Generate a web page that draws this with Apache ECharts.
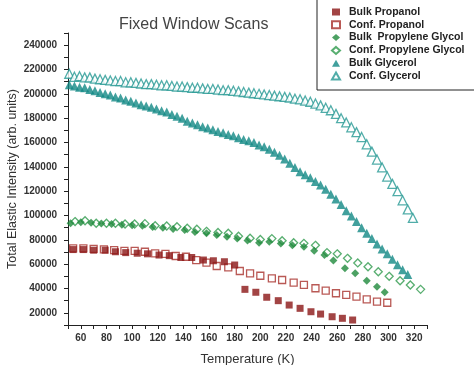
<!DOCTYPE html>
<html>
<head>
<meta charset="utf-8">
<script src="https://cdn.jsdelivr.net/npm/echarts@6/dist/echarts.min.js"></script>
<style>
html,body{margin:0;padding:0;background:#fff;}
#chart{width:474px;height:365px;}
</style>
</head>
<body>
<div id="chart"></div>
<script>
// Data: [Temperature (K), Total Elastic Intensity]
var bulkPropanol = [[54,72000],[62,72000],[70,71500],[79,71500],[87,70200],[95,69500],[104,69000],[112,68500],[121,67500],[129,67000],[138,65500],[146.5,65500],[155.6,63400],[163.4,62800],[172,62000],[180,59300],[188,39300],[196.5,36900],[205,32800],[214,30000],[222.5,26400],[231,23700],[239.5,20900],[247,19000],[256,16800],[264,15500],[272,14100]];
var confPropanol = [[54,73000],[62,73000],[70,72500],[78,72200],[86,71600],[94,71000],[102,71000],[110,70200],[118,68900],[126,68400],[134,66700],[142,66100],[150,63400],[158,61200],[166,58500],[175,57400],[184,54400],[192,52500],[200,50500],[209,48400],[217,47000],[226,44800],[234,42900],[243,40200],[251,38200],[259,36100],[267,34700],[275,33300],[283,31100],[291,29200],[299,28300]];
var bulkPG = [[52,93600],[60,94500],[68,94000],[76,93500],[84,93000],[92,92500],[100,92000],[108,91500],[116,90500],[124,90000],[132,89000],[141,88100],[149,86500],[158,85400],[166,84000],[174,82600],[182,81000],[190,79500],[199,77600],[207,78500],[216,77000],[225,75500],[234,74400],[242,71000],[250,67500],[257,63000],[266,56600],[274,52500],[283,46400],[291,41500],[297,36900]];
var confPG = [[55.5,95000],[63.3,95700],[72,93600],[80,93600],[87,93600],[94.5,93000],[102,93000],[110,93300],[118,91600],[127,91400],[135,90800],[143,89500],[150.5,88700],[158,87000],[167,86000],[175,85400],[183,83000],[192,81300],[200,80300],[209,81000],[217,79300],[226,77600],[234,77100],[243,75500],[252,69500],[260,68500],[268,64800],[276,61000],[284,57900],[292,53800],[300.5,50000],[309,46400],[317,42900],[325,39300]];
var bulkGlycerol = [[51,207500],[55,206500],[59,205500],[63,205000],[67,203500],[71,202500],[75,201000],[79,200000],[83,199000],[87,197500],[91,196500],[95,195000],[99,194000],[103,192500],[107,191000],[111,190000],[115,189000],[119,187500],[123,186000],[127,185000],[131,183000],[135,181500],[139,180000],[143,177500],[147,176000],[151,174500],[155,173000],[159,172000],[163,170500],[167,169000],[171,168000],[175,166500],[179,165500],[183,164000],[187,162500],[191,161500],[195,160000],[199,158000],[203,156500],[207,154500],[211,152000],[215,149500],[219,146500],[223,143000],[227,139500],[231,136000],[235,133500],[239,131000],[243,128000],[247,125000],[251,121500],[255,117500],[259,113500],[263,109000],[267,104000],[271,99500],[275,95000],[279,90000],[283,85500],[287,81000],[291,76500],[295,72500],[299,68500],[303,64000],[307,59500],[311,55500],[315,51500]];
var confGlycerol = [[51,216500],[55,214000],[59,214500],[63,213500],[67,213500],[71,212500],[75,212000],[79,211500],[83,211000],[87,210500],[91,210500],[95,209500],[99,209500],[103,209000],[107,208500],[111,208000],[115,208000],[119,207500],[123,207000],[127,207000],[131,206500],[135,206000],[139,206000],[143,205500],[147,205000],[151,205000],[155,204500],[159,204000],[163,204000],[167,203500],[171,203000],[175,203000],[179,202500],[183,202000],[187,201500],[191,201000],[195,200500],[199,200000],[203,199500],[207,199000],[211,198500],[215,198000],[219,197500],[223,197000],[227,196000],[231,195500],[235,194500],[239,193500],[243,192000],[247,190500],[251,188500],[255,186500],[259,183500],[263,180000],[267,176500],[271,172500],[275,168500],[279,164500],[283,158500],[287,152500],[291,146000],[295,139500],[299,132000],[303,126000],[307,120000],[311,112500],[315,105000],[319,98000]];

var seriesNames = ['Bulk Propanol','Conf. Propanol','Bulk  Propylene Glycol','Conf. Propylene Glycol','Bulk Glycerol','Conf. Glycerol'];
var titleText = 'Fixed Window Scans';
var xName = 'Temperature (K)';
var yName = 'Total Elastic Intensity (arb. units)';

var chart = echarts.init(document.getElementById('chart'));
function filled(color){ return {color: color}; }
function hollow(color){ return {color: '#ffffff', borderColor: color, borderWidth: 1.3}; }
var FONT = 'Liberation Sans, Arial, sans-serif';

chart.setOption({
  animation: false,
  backgroundColor: '#ffffff',
  title: {
    text: titleText, left: 114, top: 12,
    textStyle: {fontFamily: FONT, fontSize: 16, fontWeight: 'normal', color: '#444'}
  },
  legend: {
    orient: 'vertical', left: 317, top: -3,
    padding: [9, 14, 8, 14],
    itemWidth: 8, itemHeight: 7, itemGap: 0.8,
    backgroundColor: '#fff', borderColor: '#222', borderWidth: 1,
    textStyle: {fontFamily: FONT, fontSize: 10.5, fontWeight: 'bold', color: '#222', lineHeight: 12, padding: [0,0,0,4]},
    data: seriesNames
  },
  grid: {left: 68, right: 47, top: 33, bottom: 40, containLabel: false, outerBoundsMode: 'none'},
  xAxis: {
    type: 'value', min: 50, max: 330, interval: 10,
    name: xName, nameLocation: 'middle', nameGap: 28, nameMoveOverlap: false,
    nameTextStyle: {fontFamily: FONT, fontSize: 13, color: '#333'},
    axisLine: {show: true, lineStyle: {color: '#222', width: 1}},
    axisTick: {show: true, inside: false, length: 4, lineStyle: {color: '#222'}},
    axisLabel: {margin: 8, fontFamily: FONT, fontSize: 10, fontWeight: 'bold', color: '#333',
      formatter: function(v){ return (v % 20 === 0) ? String(v) : ''; }},
    splitLine: {show: false}
  },
  yAxis: {
    type: 'value', min: 10000, max: 250000, interval: 10000,
    name: yName, nameLocation: 'middle', nameGap: 49, nameMoveOverlap: false,
    nameTextStyle: {fontFamily: FONT, fontSize: 12.5, color: '#333'},
    axisLine: {show: true, lineStyle: {color: '#222', width: 1}},
    axisTick: {show: true, inside: false, length: 4, lineStyle: {color: '#222'}},
    axisLabel: {margin: 11, fontFamily: FONT, fontSize: 10, fontWeight: 'bold', color: '#333',
      formatter: function(v){ return (v % 20000 === 0 && v >= 20000 && v <= 240000) ? String(v) : ''; }},
    splitLine: {show: false}
  },
  series: [
    {name: seriesNames[0], type: 'scatter', symbol: 'rect', symbolSize: 7, data: bulkPropanol, itemStyle: filled('#8b1515'), z: 3},
    {name: seriesNames[1], type: 'scatter', symbol: 'rect', symbolSize: 7, data: confPropanol, itemStyle: hollow('#a8302a'), z: 2},
    {name: seriesNames[2], type: 'scatter', symbol: 'diamond', symbolSize: 8, data: bulkPG, itemStyle: filled('#1f8a3c'), z: 3},
    {name: seriesNames[3], type: 'scatter', symbol: 'diamond', symbolSize: 8, data: confPG, itemStyle: hollow('#2e9a4c'), z: 2},
    {name: seriesNames[4], type: 'scatter', symbol: 'triangle', symbolSize: 9, data: bulkGlycerol, itemStyle: filled('#118884'), z: 3},
    {name: seriesNames[5], type: 'scatter', symbol: 'triangle', symbolSize: 9, data: confGlycerol, itemStyle: hollow('#259894'), z: 2}
  ]
});
</script>
</body>
</html>
